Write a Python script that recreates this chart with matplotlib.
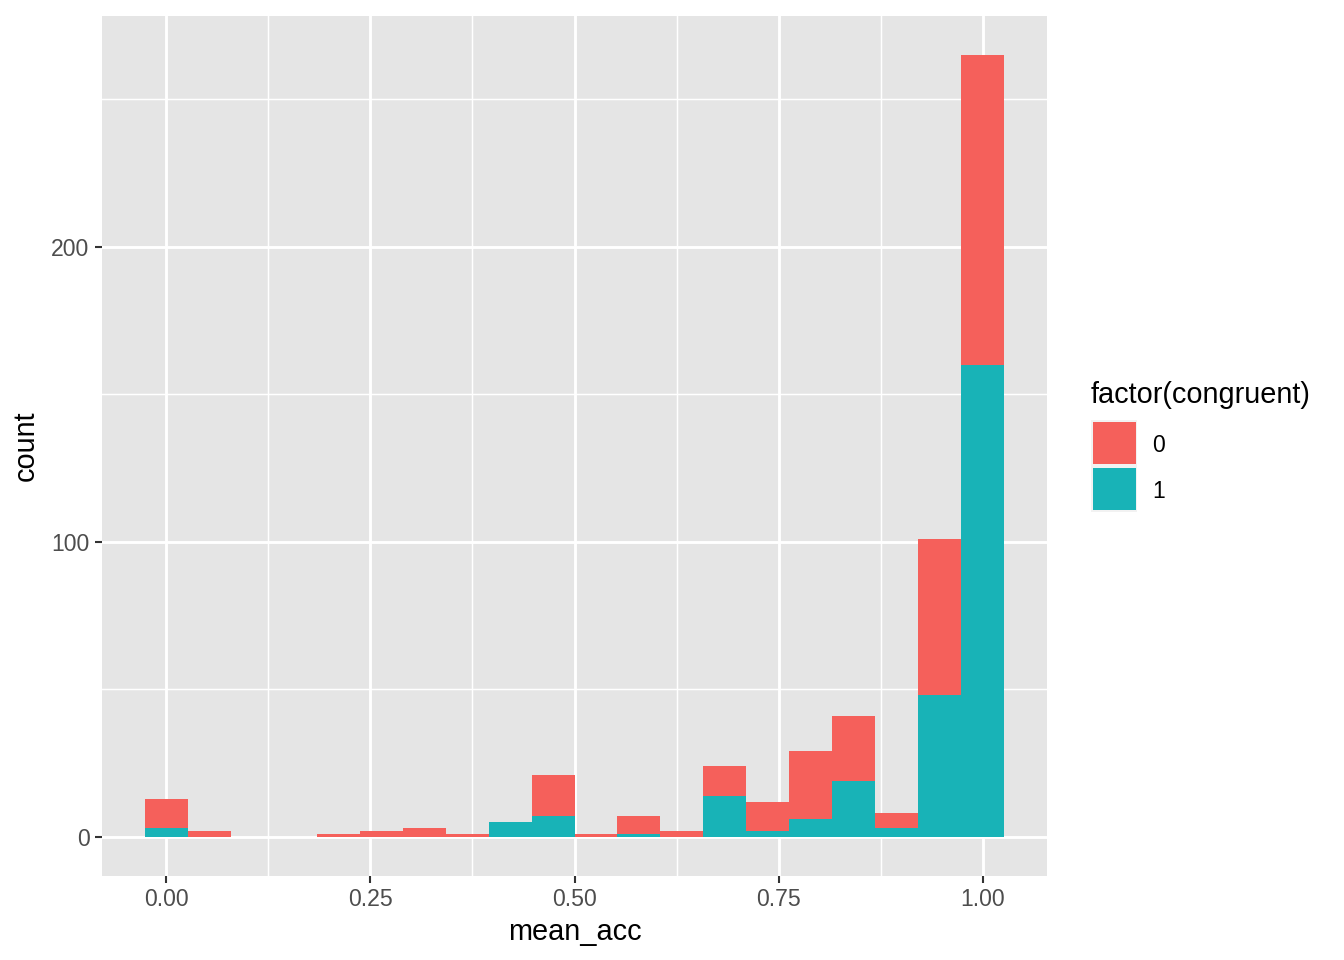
import numpy as np
import matplotlib.pyplot as plt
from matplotlib.patches import Rectangle

plt.rcParams['font.family'] = ['Liberation Sans', 'DejaVu Sans']

# histograma apilado, 20 bins centrados en k/19
bin_centers = np.arange(20) / 19
count_1 = [3, 0, 0, 0, 0, 0, 0, 0, 5, 7, 0, 1, 0, 14, 2, 6, 19, 3, 48, 160]
count_0 = [10, 2, 0, 0, 1, 2, 3, 1, 0, 14, 1, 6, 2, 10, 10, 23, 22, 5, 53, 105]
groups = ["0", "1"]
colors = {"0": "#F5605B", "1": "#18B3B7"}

x_ticks = [0.0, 0.25, 0.5, 0.75, 1.0]
x_ticklabels = ["0.00", "0.25", "0.50", "0.75", "1.00"]
y_ticks = [0, 100, 200]

W, H = 1344, 960
fig = plt.figure(figsize=(W / 100, H / 100), dpi=100)
ax = fig.add_axes([102 / W, 1 - 876 / H, (1047 - 102) / W, (876 - 16) / H])
ax.set_facecolor("#E5E5E5")

bw = 1 / 19
ax.bar(bin_centers, count_1, width=bw, color=colors["1"], linewidth=0, zorder=3)
ax.bar(bin_centers, count_0, width=bw, bottom=count_1, color=colors["0"],
       linewidth=0, zorder=3)

total = np.array(count_0) + np.array(count_1)
xmin, xmax = -bw / 2, 1 + bw / 2
xr = xmax - xmin
ax.set_xlim(xmin - 0.05 * xr, xmax + 0.05 * xr)
ymax = total.max()
ax.set_ylim(-0.05 * ymax, ymax * 1.05)

ax.set_xticks(x_ticks)
ax.set_xticklabels(x_ticklabels)
ax.set_xticks([0.125, 0.375, 0.625, 0.875], minor=True)
ax.set_yticks(y_ticks)
ax.set_yticks([50, 150, 250], minor=True)

ax.grid(which="major", color="white", linewidth=2.1, zorder=1)
ax.grid(which="minor", color="white", linewidth=1.05, zorder=1)
ax.set_axisbelow(True)
for s in ax.spines.values():
    s.set_visible(False)

ax.tick_params(which="major", length=5, width=1.5, color="#333333",
               labelcolor="#4D4D4D", labelsize=16.6, pad=4)
ax.tick_params(which="minor", length=0)

ax.set_xlabel("mean_acc", fontsize=20.8, color="black", labelpad=5)
ax.set_ylabel("count", fontsize=20.8, color="black", labelpad=8)

# leyenda manual al estilo ggplot
def fx(px):
    return px / W

def fy(py):
    return 1 - py / H

fig.text(fx(1091), fy(395), "factor(congruent)", fontsize=20.8,
         ha="left", va="center")
fig.add_artist(Rectangle((fx(1091), fy(512)), fx(46), 92 / H,
                         transform=fig.transFigure, facecolor="#F2F2F2",
                         edgecolor="none"))
for i, g in enumerate(groups):
    top = 422 + i * 46
    fig.add_artist(Rectangle((fx(1093), fy(top + 42)), fx(43), 42 / H,
                             transform=fig.transFigure, facecolor=colors[g],
                             edgecolor="none"))
    fig.text(fx(1152), fy(top + 23), g, fontsize=16.6, ha="left", va="center")

fig.savefig("out.png", dpi=100)
